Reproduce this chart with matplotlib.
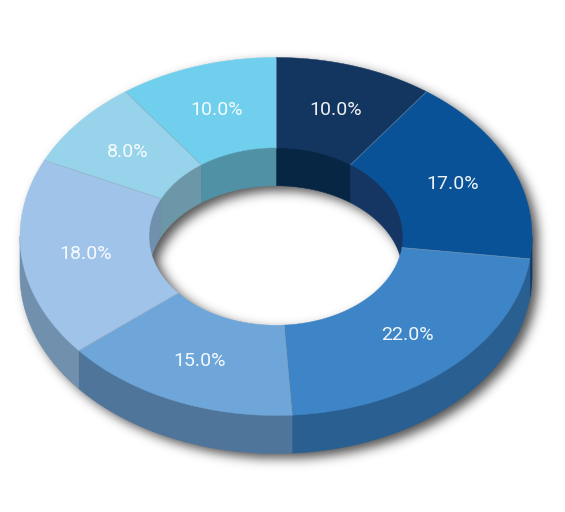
import numpy as np
import matplotlib.pyplot as plt
from matplotlib.patches import Polygon

#Datos
valores = [10, 17, 22, 15, 18, 8, 10]
etiquetas = ['10.0%', '17.0%', '22.0%', '15.0%', '18.0%', '8.0%', '10.0%']
colores = ['#133660', '#0A5297', '#3D85C6', '#6EA6DA', '#A0C3EA', '#97D3EA', '#70CFEC']
pared_ext = ['#0D2543', '#073A6A', '#2A5F91', '#4F759B', '#7190AD', '#6B97A8', '#5091A6']
pared_int = ['#072644', '#153663', '#2A5F91', '#4F759B', '#7190AD', '#6B97A8', '#5091A6']

#Geometria en pixeles
cx, cy = 276, 236.5
rx, ry = 256, 179
k_hueco = 0.496
alto = 38

plt.rcParams['font.family'] = ['Roboto', 'DejaVu Sans']
fig = plt.figure(figsize=(5.65, 5.12), dpi=100)
ax = fig.add_axes([0, 0, 1, 1])
ax.set_xlim(0, 565)
ax.set_ylim(512, 0)
ax.axis('off')


def punto(ang, k=1.0, dy=0):
    ang = np.radians(ang)
    return cx + rx * k * np.sin(ang), cy + ry * k * (-np.cos(ang)) + dy


def arco(a, b, k=1.0, dy=0):
    t = np.linspace(a, b, 80)
    x, y = punto(t, k, dy)
    return np.column_stack([x, y])


#Sombra: mascara del solido desplazada y difuminada
xx, yy = np.meshgrid(np.arange(565) + 0.5, np.arange(512) + 0.5)


def elipse(k, dy):
    return ((xx - cx) / (rx * k)) ** 2 + ((yy - cy - dy) / (ry * k)) ** 2 <= 1


fuera = elipse(1, 0) | elipse(1, alto)
for d in range(0, alto, 2):
    fuera = fuera | elipse(1, d)
hueco = elipse(k_hueco, 0) & elipse(k_hueco, alto)
mascara = (fuera & ~hueco).astype(float)
mascara = np.roll(mascara, (5, 6), axis=(0, 1))
s = np.arange(-18, 19)
nucleo = np.exp(-s ** 2 / (2 * 5.5 ** 2))
nucleo = nucleo / nucleo.sum()
mascara = np.apply_along_axis(lambda f: np.convolve(f, nucleo, mode='same'), 0, mascara)
mascara = np.apply_along_axis(lambda f: np.convolve(f, nucleo, mode='same'), 1, mascara)
sombra = np.zeros((512, 565, 4))
sombra[..., 3] = mascara * 0.68
ax.imshow(sombra, extent=(0, 565, 512, 0), zorder=1, interpolation='bilinear', aspect='auto')
ax.set_xlim(0, 565)
ax.set_ylim(512, 0)

#Angulos de cada porcion
limites = np.cumsum([0] + valores) * 3.6

#Paredes interiores (mitad superior del hueco) y exteriores (mitad inferior)
for i in range(len(valores)):
    a, b = limites[i], limites[i + 1]
    #interior: visible entre 270-360 y 0-90
    for lo, hi in [(0, 90), (270, 360)]:
        a2, b2 = max(a, lo), min(b, hi)
        if a2 < b2:
            sup = arco(a2, b2, k_hueco)
            inf = arco(b2, a2, k_hueco, alto)
            ax.add_patch(Polygon(np.vstack([sup, inf]), closed=True, facecolor=pared_int[i],
                                 edgecolor=pared_int[i], linewidth=0.4, zorder=2))
    #exterior: visible entre 90 y 270
    a2, b2 = max(a, 90), min(b, 270)
    if a2 < b2:
        sup = arco(a2, b2)
        inf = arco(b2, a2, 1.0, alto)
        ax.add_patch(Polygon(np.vstack([sup, inf]), closed=True, facecolor=pared_ext[i],
                             edgecolor=pared_ext[i], linewidth=0.4, zorder=2))

#Cara superior
for i in range(len(valores)):
    a, b = limites[i], limites[i + 1]
    pts = np.vstack([arco(a, b), arco(b, a, k_hueco)])
    ax.add_patch(Polygon(pts, closed=True, facecolor=colores[i],
                         edgecolor=colores[i], linewidth=0.3, zorder=3))

#Lineas entre porciones y etiquetas
for i in range(len(valores)):
    a, b = limites[i], limites[i + 1]
    linea = np.array([punto(a, k_hueco), punto(a)])
    ax.plot(linea[:, 0], linea[:, 1], color=(0.6, 0.66, 0.72, 0.5), linewidth=0.6, zorder=3.5)
    x, y = punto((a + b) / 2, 0.75)
    ax.text(x, y + 1, etiquetas[i], color='white', alpha=0.93, fontsize=14, ha='center', va='center', zorder=4)

fig.savefig('out.png', dpi=100)
